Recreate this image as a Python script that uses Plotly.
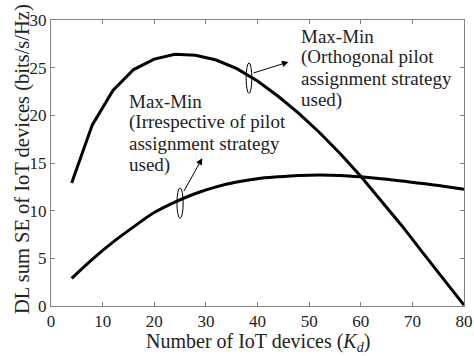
import plotly.graph_objects as go

K = [4, 8, 12, 16, 20, 24, 28, 32, 36, 40, 44, 48, 52, 56, 60, 64, 68, 72, 76, 80]
se_orthogonal = [12.9, 19.0, 22.6, 24.8, 25.9, 26.4, 26.3, 25.8, 24.9, 23.6, 22.0,
                 20.2, 18.2, 16.0, 13.6, 11.0, 8.4, 5.6, 2.8, 0.1]
se_irrespective = [2.9, 4.9, 6.7, 8.3, 9.8, 10.9, 11.8, 12.5, 13.0, 13.35, 13.55,
                   13.7, 13.75, 13.7, 13.55, 13.35, 13.1, 12.85, 12.55, 12.25]
x_ticks = [0, 10, 20, 30, 40, 50, 60, 70, 80]
y_ticks = [0, 5, 10, 15, 20, 25, 30]
label_orthogonal = ["Max-Min", "(Orthogonal pilot", "assignment strategy", "used)"]
label_irrespective = ["Max-Min", "(Irrespective of pilot", "assignment strategy", "used)"]

FONT = "Liberation Serif, Times New Roman, serif"
TXT = "#222"

# plot area in pixels (for placing text lines)
L, R, T, B = 51, 464, 20, 306


def px_to_paper(px, py):
    return (px - L) / (R - L), (B - py) / (B - T)


fig = go.Figure()
fig.add_trace(go.Scatter(x=K, y=se_orthogonal, mode="lines",
                         line=dict(color="black", width=3), showlegend=False))
fig.add_trace(go.Scatter(x=K, y=se_irrespective, mode="lines",
                         line=dict(color="black", width=3, shape="spline"), showlegend=False))

# ellipses
fig.add_shape(type="circle", xref="x", yref="y", x0=37.8, x1=38.9, y0=22.3, y1=25.5,
              line=dict(color="black", width=1))
fig.add_shape(type="circle", xref="x", yref="y", x0=24.4, x1=25.6, y0=9.2, y1=12.4,
              line=dict(color="black", width=1))

# arrows
fig.add_annotation(x=46.0, y=25.6, ax=38.95, ay=24.4, xref="x", yref="y", axref="x", ayref="y",
                   showarrow=True, arrowhead=2, arrowsize=1.3, arrowwidth=1, arrowcolor="black", text="")
fig.add_annotation(x=29.3, y=15.5, ax=25.6, ay=11.9, xref="x", yref="y", axref="x", ayref="y",
                   showarrow=True, arrowhead=2, arrowsize=1.3, arrowwidth=1, arrowcolor="black", text="")

# text blocks, one annotation per line for CM-like spacing
for block, (x0, y0) in ((label_orthogonal, (299, 36)), (label_irrespective, (127, 101))):
    for i, line in enumerate(block):
        px, py = px_to_paper(x0, y0 + i * 21.3)
        fig.add_annotation(x=px, y=py, xref="paper", yref="paper", xanchor="left",
                           yanchor="middle", showarrow=False, text=line,
                           font=dict(family=FONT, size=19, color=TXT))

# axis titles
fig.add_annotation(x=0.5, y=0, xref="paper", yref="paper", xanchor="center", yanchor="middle",
                   yshift=-36, showarrow=False,
                   text="Number of IoT devices (<i>K</i><sub><i>d</i></sub>)",
                   font=dict(family=FONT, size=20, color=TXT))
fig.add_annotation(x=0, y=0.5, xref="paper", yref="paper", xanchor="center", yanchor="middle",
                   xshift=-29, yshift=4, showarrow=False, textangle=-90,
                   text="DL sum SE of IoT devices (bits/s/Hz)",
                   font=dict(family=FONT, size=20.5, color=TXT))

axis_common = dict(showgrid=False, zeroline=False, showline=True, linecolor="#808080",
                   linewidth=1, mirror="ticks", ticks="inside", ticklen=4, tickcolor="#808080",
                   automargin=False,
                   tickfont=dict(family=FONT, size=17, color=TXT))

fig.update_xaxes(range=[0, 80], tickvals=x_ticks, **axis_common)
fig.update_yaxes(range=[0, 30], tickvals=y_ticks, **axis_common)

fig.update_layout(width=474, height=356, margin=dict(l=L, r=474 - R, t=T, b=356 - B),
                  plot_bgcolor="white", paper_bgcolor="white")

fig.write_html("out.html", config={"displayModeBar": False},
               post_script="document.body.style.margin='0';")
